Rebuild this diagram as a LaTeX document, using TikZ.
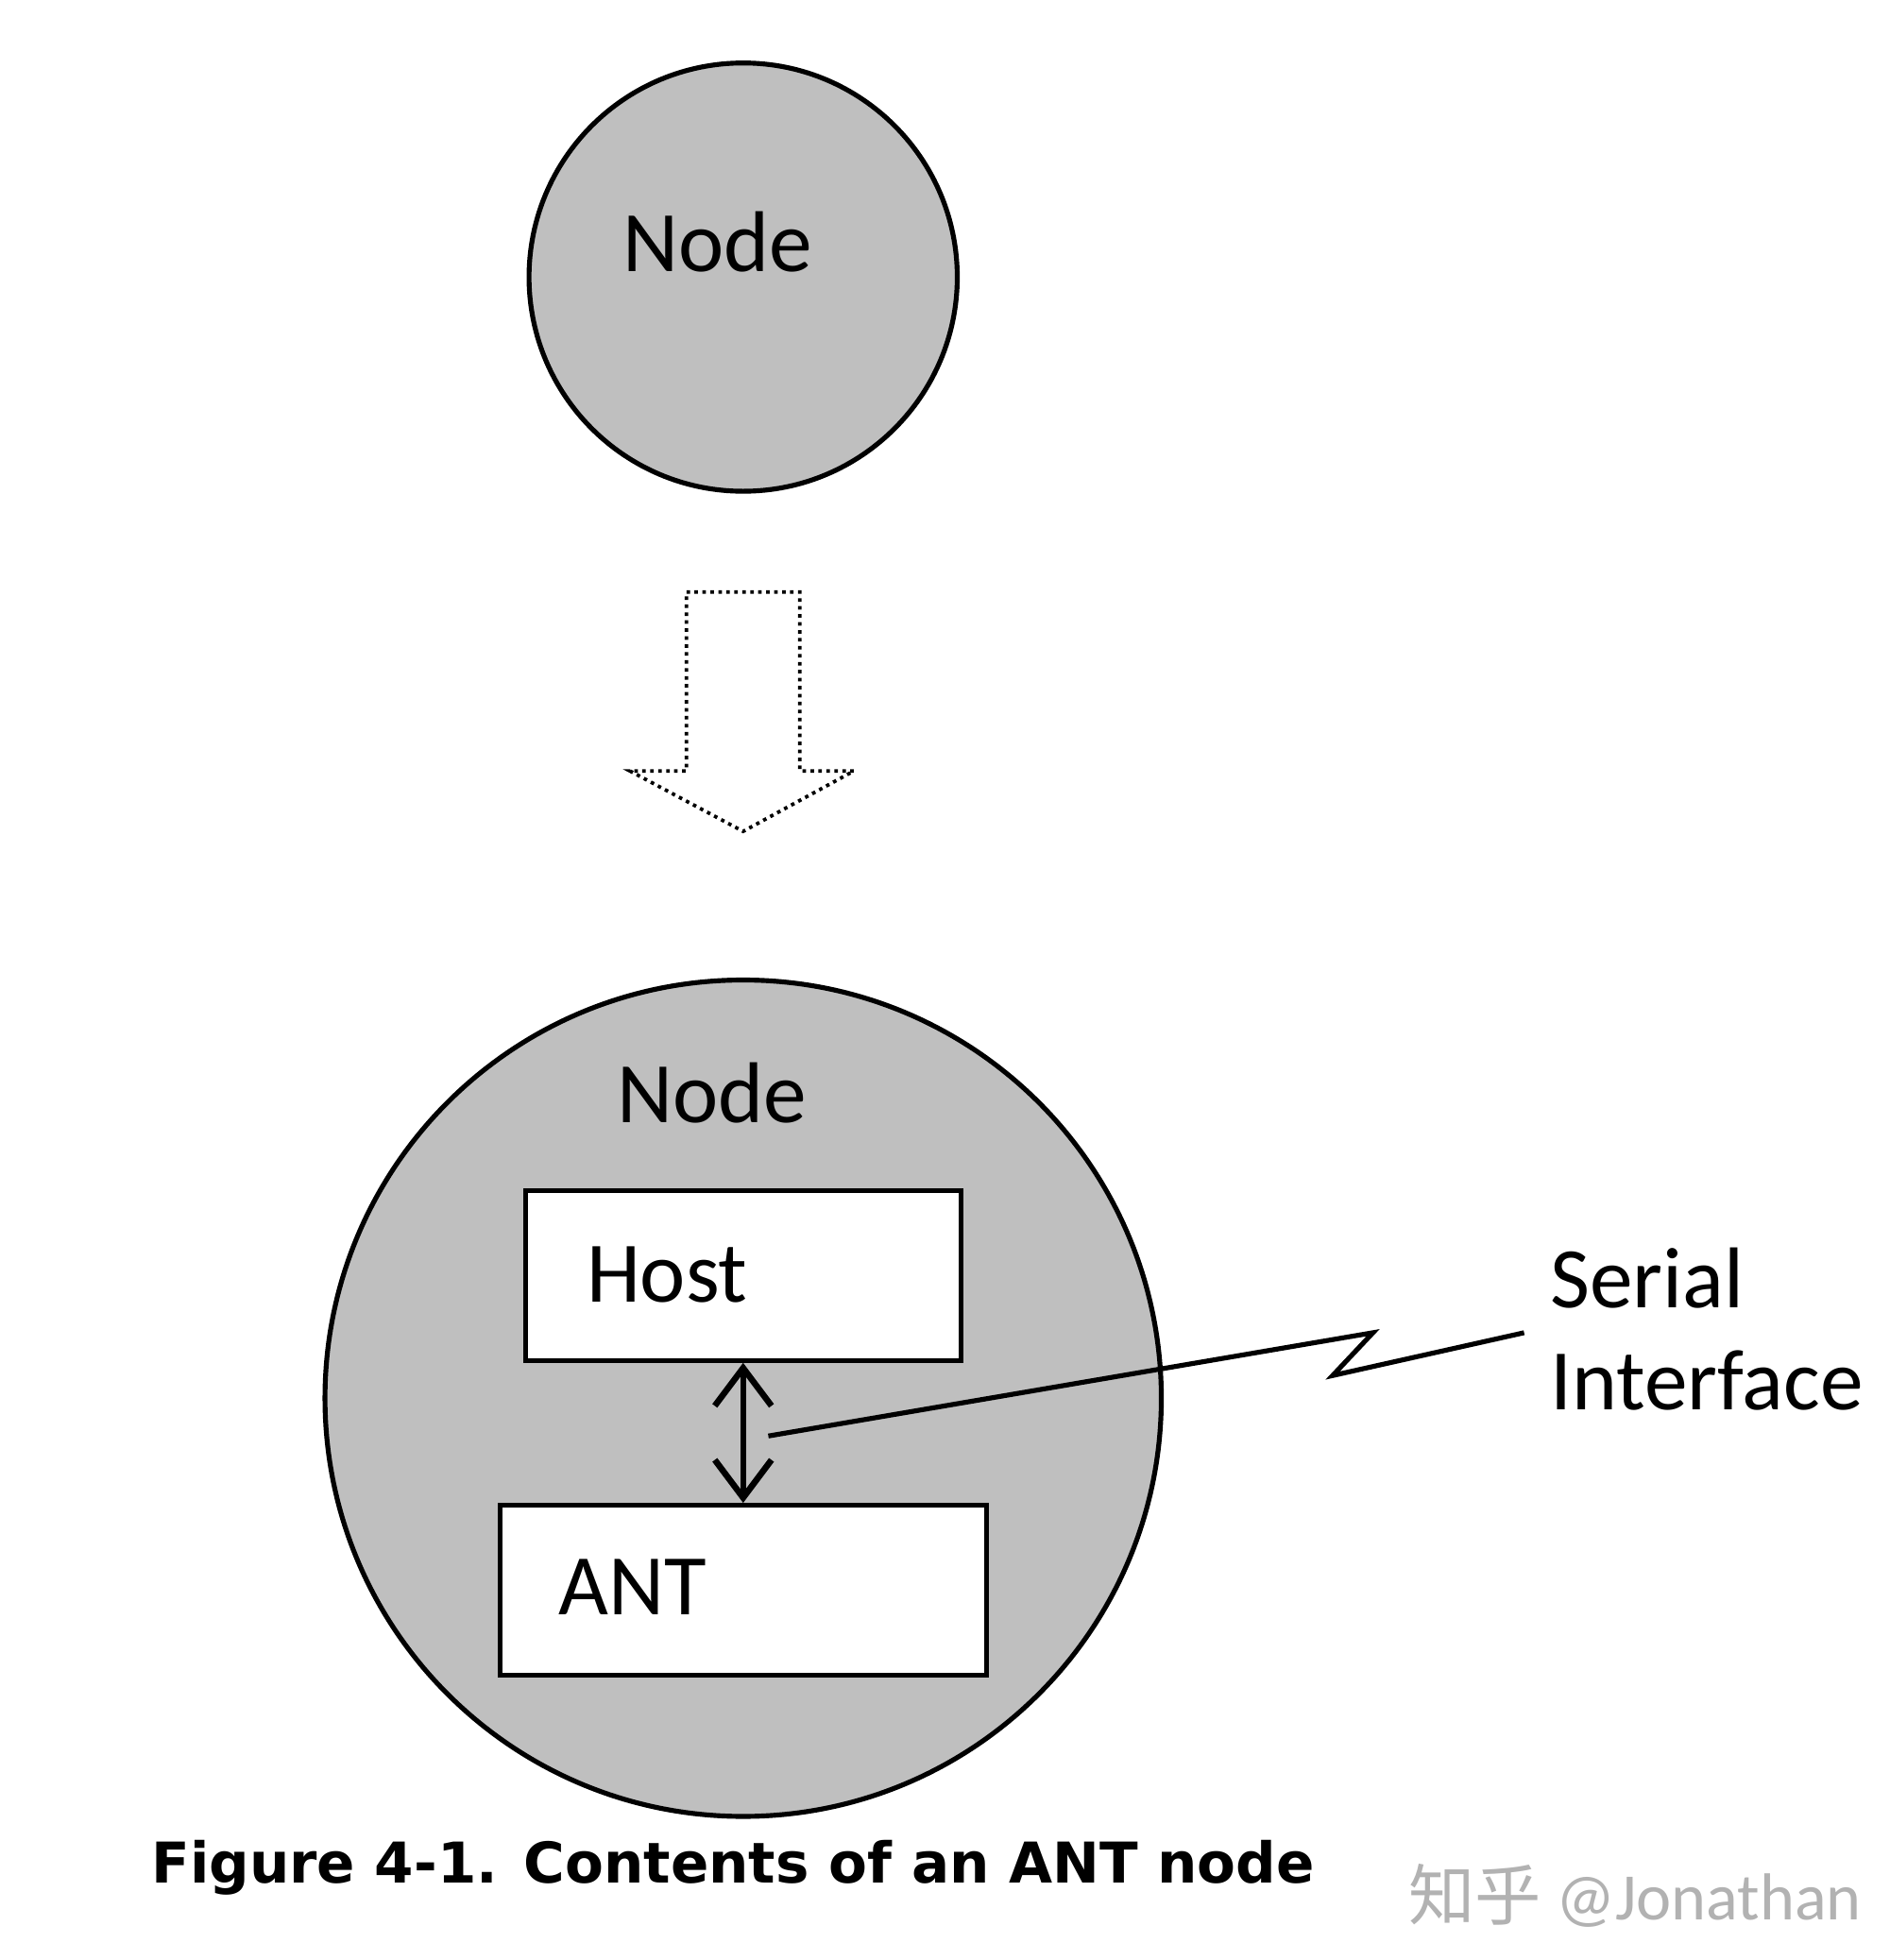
\documentclass[tikz,border=0pt]{standalone}
\usepackage{fontspec}
\setmainfont{Carlito}
\newfontfamily\capfont{DejaVu Sans}
\newfontfamily\cjk{Noto Sans CJK SC}
\usetikzlibrary{arrows.meta,positioning,shapes.geometric}
\begin{document}
\begin{tikzpicture}
          [blob/.style={circle, draw, line width=1.1pt, fill=black!25},
          unit/.style={rectangle, draw, line width=1.1pt, fill=white, minimum width=3.46cm, minimum height=1.35cm},
          label/.style={font=\fontsize{19.5}{23}\selectfont, inner sep=0pt},
          line/.style={draw, line width=1.1pt}]
          \useasboundingbox (0,0) rectangle (15,-15.56);

          % upper node
          \node [blob, minimum size=3.4cm] (topnode) at (5.9,-2.2) {};
          \node [label] (toptext) at (5.7,-1.92) {Node};

          % dotted arrow
          \draw [densely dotted, thick]
              (5.45,-4.7) coordinate (shaftA) -- (6.35,-4.7) -- (6.35,-6.12) -- (6.78,-6.12)
              -- (5.9,-6.6) coordinate (tip) -- (5.0,-6.12) -- (5.45,-6.12) -- cycle;

          % lower node
          \node [blob, minimum size=6.64cm] (bignode) at (5.9,-11.1) {};
          \node [label] (bigtext) at (5.65,-8.68) {Node};
          \node [unit] (host) at (5.9,-10.125) {};
          \node [label, anchor=west] at (4.65,-10.12) {Host};
          \node [unit, minimum width=3.86cm] (ant) at (5.9,-12.625) {};
          \node [label, anchor=west] at (4.43,-12.6) {ANT};
          \draw [line, line width=1.4pt, {Straight Barb[length=3mm,width=4.5mm]}-{Straight Barb[length=3mm,width=4.5mm]}] (host.south) -- (ant.north);

          % serial link
          \coordinate (linkstart) at (6.1,-11.4);
          \node [label, anchor=north west, align=left] (serial) at (12.3,-9.9) {Serial\\Interface};
          \draw [line] (linkstart) -- (10.9,-10.58) -- (10.58,-10.92) -- (12.1,-10.58);

          % caption
          \node [font=\capfont\bfseries\fontsize{12.7}{15}\selectfont, inner sep=0pt] (caption) at (5.82,-14.83) {Figure 4-1. Contents of an ANT node};
          \node [font=\fontsize{15}{18}\selectfont, text=black!30, inner sep=0pt] (mark) at (12.98,-15.05) {{\cjk 知乎} @Jonathan};
\end{tikzpicture}
\end{document}
